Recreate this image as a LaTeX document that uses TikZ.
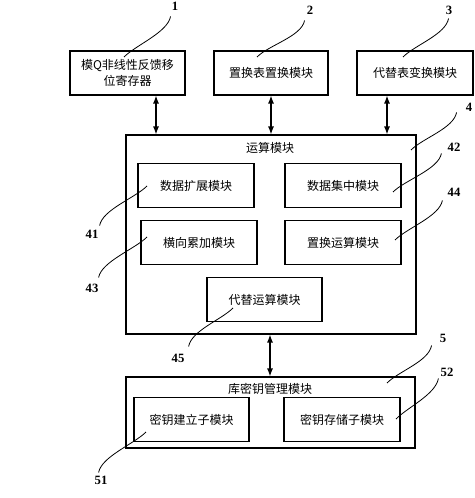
\documentclass[tikz,border=0pt]{standalone}
\usepackage{fontspec}
\setmainfont{Liberation Serif}
\newfontfamily\cjk{Noto Sans CJK SC}
\usetikzlibrary{arrows.meta}
\begin{document}
\begin{tikzpicture}[x=0.75pt,y=0.75pt,yscale=-1,xscale=1,
  modbox/.style={draw, line width=0.8pt, inner sep=1pt, align=center, minimum height=32.5pt, font=\cjk\fontsize{9}{12.5}\selectfont},
  outerbox/.style={draw, line width=0.8pt, inner sep=0pt},
  boxtitle/.style={inner sep=0.75pt, font=\cjk\fontsize{9}{12.5}\selectfont},
  numlabel/.style={inner sep=0.75pt, font=\bfseries\fontsize{9.5}{11}\selectfont},
  leader/.style={line width=0.6pt},
  dblarrow/.style={line width=0.9pt, {Latex[length=6pt,width=4.5pt]}-{Latex[length=6pt,width=4.5pt]}}
]
\useasboundingbox (0,0) rectangle (474,498);

%Shape: Rectangle (top row)
\node[modbox, minimum width=86.25pt, minimum height=33pt] (shiftreg) at (127.5,73) {模Q非线性反馈移\\位寄存器};
\node[modbox, minimum width=85.5pt, minimum height=33pt] (permtab) at (271,73) {置换表置换模块};
\node[modbox, minimum width=87pt, minimum height=33pt] (subtab) at (415,73) {代替表变换模块};

%Shape: Rectangle (operation module)
\node[outerbox, minimum width=217.5pt, minimum height=149.25pt] (oper) at (271,234.5) {};
\node[boxtitle] (opertitle) at (270,148) {运算模块};
\node[modbox, minimum width=87pt] (expand) at (196,185.5) {数据扩展模块};
\node[modbox, minimum width=87pt] (gather) at (343,185.5) {数据集中模块};
\node[modbox, minimum width=87pt] (accum) at (199,242.5) {横向累加模块};
\node[modbox, minimum width=87pt] (permop) at (343,242.5) {置换运算模块};
\node[modbox, minimum width=86.25pt] (subop) at (264.5,299.5) {代替运算模块};

%Shape: Rectangle (key management module)
\node[outerbox, minimum width=216.75pt, minimum height=53.25pt] (keymgr) at (270.5,412.5) {};
\node[boxtitle] (keytitle) at (270,389) {库密钥管理模块};
\node[modbox, minimum width=86.25pt] (keymake) at (191.5,419.5) {密钥建立子模块};
\node[modbox, minimum width=87pt] (keystore) at (342,419.5) {密钥存储子模块};

%Straight Lines (double arrows)
\coordinate (ax1) at (156,0);
\coordinate (ax2) at (271,0);
\coordinate (ax3) at (387,0);
\coordinate (ax4) at (270,0);
\draw[dblarrow] (shiftreg.south -| ax1) -- (oper.north -| ax1);
\draw[dblarrow] (permtab.south -| ax2) -- (oper.north -| ax2);
\draw[dblarrow] (subtab.south -| ax3) -- (oper.north -| ax3);
\draw[dblarrow] (oper.south -| ax4) -- (keymgr.north -| ax4);

% Text Node
\node[numlabel] (n1) at (175,6) {1};
\node[numlabel] (n2) at (310,10) {2};
\node[numlabel] (n3) at (449,10) {3};
\node[numlabel] (n4) at (469,107) {4};
\node[numlabel] (n42) at (454,147) {42};
\node[numlabel] (n44) at (454,192) {44};
\node[numlabel] (n41) at (92,234) {41};
\node[numlabel] (n43) at (92,288) {43};
\node[numlabel] (n45) at (178,358) {45};
\node[numlabel] (n5) at (443,338) {5};
\node[numlabel] (n52) at (447,372) {52};
\node[numlabel] (n51) at (101,480) {51};

%Curve Lines (leaders)
\coordinate (e1) at (124,57);
\coordinate (e2) at (257,57);
\coordinate (e3) at (403,57);
\coordinate (e4) at (411,150);
\coordinate (e42) at (393,192);
\coordinate (e44) at (395,240);
\coordinate (e41) at (147,186);
\coordinate (e43) at (147,237);
\coordinate (e45) at (233,308);
\coordinate (e5) at (387,383);
\coordinate (e52) at (396,419);
\coordinate (e51) at (146,432);
\draw[leader] ([shift={(0,5)}]n1.south west) .. controls +(-3,16) and +(12,-12) .. (e1);
\draw[leader] ([shift={(-1,5)}]n2.south west) .. controls +(-3,16) and +(12,-12) .. (e2);
\draw[leader] ([shift={(4,3)}]n3.south west) .. controls +(-3,16) and +(12,-12) .. (e3);
\draw[leader] ([shift={(-8,0)}]n4.south west) .. controls +(-3,16) and +(12,-12) .. (e4);
\draw[leader] ([shift={(-5,1)}]n42.south west) .. controls +(-3,16) and +(12,-12) .. (e42);
\draw[leader] ([shift={(-4,3)}]n44.south west) .. controls +(-3,16) and +(12,-12) .. (e44);
\draw[leader] ([shift={(-7,2)}]n5.south west) .. controls +(-3,16) and +(12,-12) .. (e5);
\draw[leader] ([shift={(-1,1)}]n52.south west) .. controls +(-3,16) and +(12,-12) .. (e52);
\draw[leader] ([shift={(0,-3)}]n41.north east) .. controls +(3,-16) and +(-12,12) .. (e41);
\draw[leader] ([shift={(-1,-5)}]n43.north east) .. controls +(3,-16) and +(-12,12) .. (e43);
\draw[leader] ([shift={(3,-6)}]n45.north east) .. controls +(3,-16) and +(-12,12) .. (e45);
\draw[leader] ([shift={(-10,-2)}]n51.north east) .. controls +(3,-16) and +(-12,12) .. (e51);

\end{tikzpicture}
\end{document}
